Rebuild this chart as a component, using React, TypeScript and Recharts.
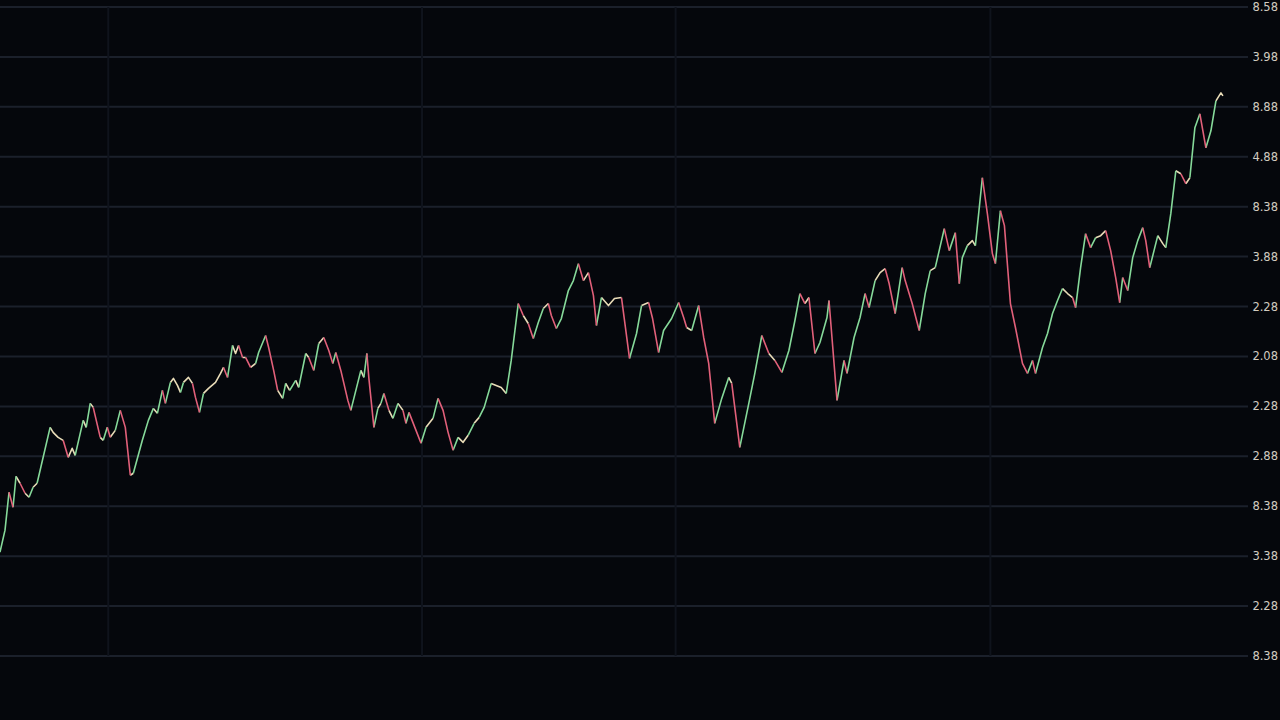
import React from "react";
import { LineChart, Line, XAxis, YAxis, CartesianGrid, ReferenceLine } from "recharts";

// time index (session minutes) and price
const times: number[] = [
  0, 5, 9, 13, 16, 20, 25, 29, 33, 37, 50, 53, 58, 63, 68, 72, 75, 83, 86, 90,
  93, 100, 103, 107, 110, 115, 120, 125, 130, 133, 142, 148, 153, 157, 162, 165, 170, 173, 177, 180,
  183, 188, 192, 195, 199, 203, 208, 215, 220, 223, 227, 232, 235, 238, 242, 245, 250, 255, 258, 265,
  268, 273, 277, 282, 285, 289, 295, 298, 305, 308, 313, 318, 323, 328, 332, 335, 340, 347, 350, 357,
  360, 363, 366, 368, 373, 377, 380, 383, 388, 392, 397, 402, 405, 408, 415, 420, 425, 432, 437, 442,
  447, 452, 457, 462, 467, 473, 478, 483, 490, 495, 500, 505, 510, 517, 522, 527, 532, 537, 542, 547,
  550, 555, 560, 567, 572, 577, 582, 587, 592, 595, 600, 607, 613, 620, 628, 635, 640, 647, 651, 657,
  662, 670, 677, 682, 685, 690, 697, 702, 707, 713, 720, 727, 730, 738, 747, 753, 760, 767, 773, 780,
  787, 793, 798, 803, 807, 813, 818, 825, 827, 835, 842, 845, 852, 858, 863, 867, 873, 878, 883, 887,
  893, 900, 903, 910, 917, 923, 928, 933, 942, 947, 953, 957, 960, 965, 970, 973, 980, 985, 990, 993,
  998, 1002, 1008, 1013, 1020, 1025, 1030, 1033, 1040, 1045, 1050, 1055, 1060, 1065, 1070, 1073, 1078, 1083, 1088, 1093,
  1098, 1103, 1108, 1113, 1117, 1120, 1125, 1130, 1135, 1140, 1143, 1147, 1152, 1155, 1160, 1163, 1168, 1173, 1178, 1183,
  1187, 1192, 1197, 1200, 1203, 1208, 1213, 1218, 1220,
];

const prices: number[] = [
  3.04, 3.26, 3.64, 3.49, 3.80, 3.73, 3.63, 3.59, 3.69, 3.73, 4.29, 4.24, 4.19, 4.16, 3.99, 4.08, 4.01, 4.36, 4.29, 4.53,
  4.49, 4.19, 4.16, 4.29, 4.19, 4.26, 4.46, 4.29, 3.81, 3.83, 4.16, 4.36, 4.48, 4.43, 4.66, 4.53, 4.74, 4.78, 4.71, 4.64,
  4.74, 4.79, 4.73, 4.59, 4.44, 4.63, 4.68, 4.74, 4.83, 4.89, 4.79, 5.11, 5.03, 5.11, 4.99, 4.99, 4.89, 4.93, 5.04, 5.21,
  5.09, 4.86, 4.66, 4.58, 4.73, 4.66, 4.76, 4.69, 5.03, 4.99, 4.86, 5.13, 5.19, 5.06, 4.93, 5.04, 4.86, 4.56, 4.46, 4.74,
  4.86, 4.79, 5.03, 4.78, 4.29, 4.48, 4.53, 4.63, 4.46, 4.38, 4.53, 4.46, 4.33, 4.44, 4.26, 4.13, 4.29, 4.38, 4.58, 4.46,
  4.24, 4.06, 4.19, 4.14, 4.21, 4.33, 4.39, 4.49, 4.73, 4.71, 4.69, 4.63, 4.96, 5.53, 5.41, 5.33, 5.18, 5.34, 5.48, 5.53,
  5.41, 5.28, 5.38, 5.66, 5.76, 5.93, 5.76, 5.84, 5.61, 5.31, 5.59, 5.51, 5.58, 5.59, 4.98, 5.23, 5.51, 5.54, 5.38, 5.04,
  5.26, 5.38, 5.54, 5.39, 5.29, 5.26, 5.51, 5.19, 4.93, 4.33, 4.58, 4.79, 4.73, 4.09, 4.53, 4.83, 5.21, 5.03, 4.96, 4.84,
  5.06, 5.36, 5.63, 5.53, 5.59, 5.03, 5.14, 5.39, 5.56, 4.56, 4.96, 4.83, 5.19, 5.39, 5.63, 5.49, 5.76, 5.84, 5.88, 5.73,
  5.43, 5.89, 5.76, 5.53, 5.26, 5.63, 5.86, 5.89, 6.28, 6.06, 6.24, 5.73, 5.99, 6.11, 6.16, 6.11, 6.79, 6.43, 6.03, 5.93,
  6.46, 6.31, 5.53, 5.29, 4.93, 4.83, 4.96, 4.83, 5.09, 5.23, 5.43, 5.56, 5.68, 5.63, 5.59, 5.49, 5.89, 6.23, 6.09, 6.19,
  6.21, 6.26, 6.06, 5.79, 5.54, 5.79, 5.66, 5.99, 6.16, 6.29, 6.16, 5.89, 6.09, 6.21, 6.13, 6.09, 6.43, 6.86, 6.83, 6.73,
  6.79, 7.29, 7.43, 7.26, 7.09, 7.26, 7.56, 7.64, 7.61,
];

const yTicks: number[] = [8.5, 8.0, 7.5, 7.0, 6.5, 6.0, 5.5, 5.0, 4.5, 4.0, 3.5, 3.0, 2.5, 2.0];
const yTickLabels: string[] = [
  "8.58", "3.98", "8.88", "4.88", "8.38", "3.88", "2.28", "2.08", "2.28", "2.88", "8.38", "3.38", "2.28", "8.38",
];
const xGridTimes: number[] = [108, 421, 674, 988];

type Pt = { t: number; p: number | null };

function classify(d: number): "up" | "down" | "flat" {
  if (Math.abs(d) < 0.09) return "flat";
  return d > 0 ? "up" : "down";
}

function buildSeries(kind: "up" | "down" | "flat"): Pt[] {
  const out: Pt[] = [];
  let open = false;
  for (let i = 0; i < prices.length - 1; i++) {
    const k = classify(prices[i + 1] - prices[i]);
    if (k === kind) {
      if (!open) out.push({ t: times[i], p: prices[i] });
      out.push({ t: times[i + 1], p: prices[i + 1] });
      open = true;
    } else if (open) {
      out.push({ t: times[i + 1], p: null });
      open = false;
    }
  }
  return out;
}

const upData = buildSeries("up");
const downData = buildSeries("down");
const flatData = buildSeries("flat");

const RightTick = (props: any) => {
  const { x, y, payload } = props;
  const idx = yTicks.indexOf(payload.value);
  return (
    <text
      x={x + 22}
      y={y}
      dy={4}
      textAnchor="end"
      fill="#d2ccc0"
      fontSize={11.5}
      fontFamily="'DejaVu Sans', sans-serif"
    >
      {idx >= 0 ? yTickLabels[idx] : ""}
    </text>
  );
};

export default function App() {
  return (
    <div
      style={{
        position: "absolute",
        left: 0,
        top: 0,
        width: 1280,
        height: 720,
        background: "#05070c",
        overflow: "hidden",
      }}
    >
      <LineChart width={1280} height={720} margin={{ top: 7, right: 0, bottom: 63, left: 0 }}>
        <CartesianGrid horizontal={true} vertical={false} stroke="#1b202b" strokeWidth={2} />
        <XAxis
          type="number"
          dataKey="t"
          domain={[0, 1245]}
          ticks={xGridTimes}
          tick={false}
          axisLine={false}
          tickLine={false}
          height={1}
          allowDataOverflow
        />
        <YAxis
          orientation="right"
          type="number"
          domain={[2, 8.5]}
          ticks={yTicks}
          tick={<RightTick />}
          axisLine={false}
          tickLine={false}
          width={32}
          interval={0}
        />
        {xGridTimes.map((t) => (
          <ReferenceLine key={t} x={t} stroke="#0f131c" strokeWidth={2} />
        ))}
        <Line
          data={flatData}
          dataKey="p"
          stroke="#e9dcb8"
          strokeWidth={1.6}
          dot={false}
          activeDot={false}
          connectNulls={false}
          isAnimationActive={false}
          strokeLinejoin="round"
        />
        <Line
          data={upData}
          dataKey="p"
          stroke="#86d99a"
          strokeWidth={1.6}
          dot={false}
          activeDot={false}
          connectNulls={false}
          isAnimationActive={false}
          strokeLinejoin="round"
        />
        <Line
          data={downData}
          dataKey="p"
          stroke="#e2607a"
          strokeWidth={1.6}
          dot={false}
          activeDot={false}
          connectNulls={false}
          isAnimationActive={false}
          strokeLinejoin="round"
        />
      </LineChart>
    </div>
  );
}
